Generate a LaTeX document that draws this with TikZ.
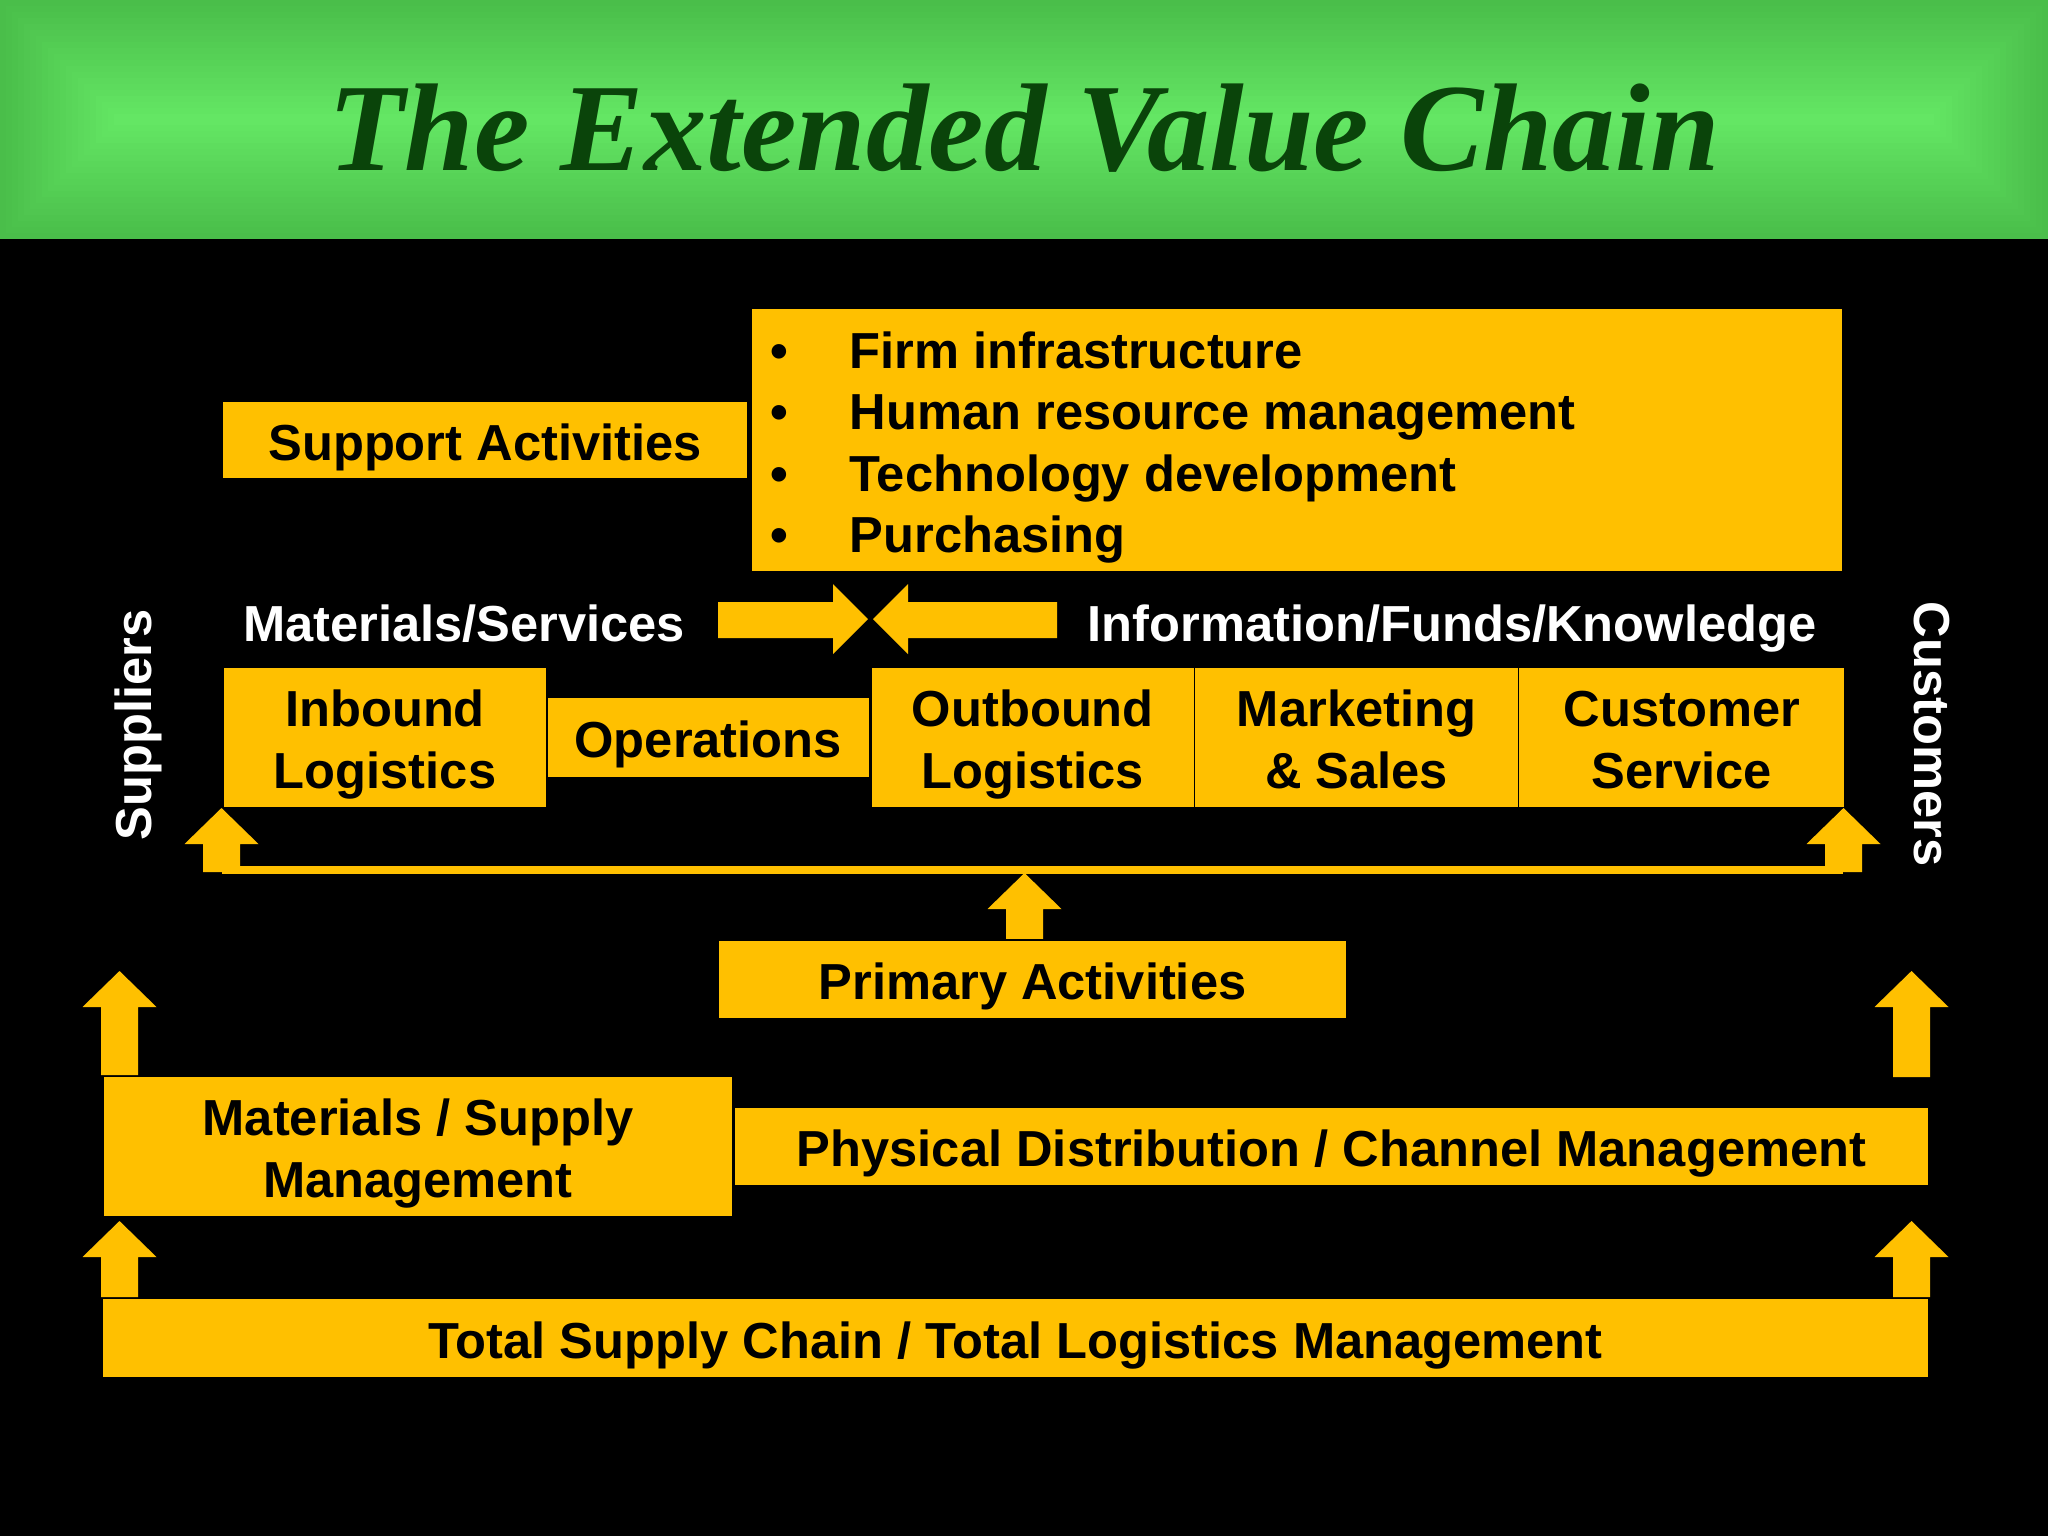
\documentclass[tikz,border=0pt]{standalone}
\usepackage{fontspec}
\setmainfont{Liberation Sans}
\newfontfamily\titlefont{Liberation Serif}
\usetikzlibrary{positioning}

\definecolor{amber}{RGB}{255,192,0}
\definecolor{edgegreen}{RGB}{74,190,74}
\definecolor{midgreen}{RGB}{100,230,100}
\definecolor{titlegreen}{RGB}{10,68,10}
\newcommand{\boxfont}{\fontsize{14.4}{17.4}\selectfont\bfseries}
\newcommand{\topstrut}{\rule{0pt}{14.6pt}}
\newcommand{\botstrut}{\rule[-3.2pt]{0pt}{0pt}}

\tikzset{
  pics/uparr/.style={code={
    \fill[amber] (-18.5,0) -- (-18.5,{-#1+36}) -- (-37,{-#1+36}) -- (0,-#1)
      -- (37,{-#1+36}) -- (18.5,{-#1+36}) -- (18.5,0) -- cycle;}}
}

\begin{document}
\begin{tikzpicture}[x=0.01cm,y=-0.01cm,
    ybox/.style={fill=amber,draw=black,line width=0.4pt,inner sep=0pt,outer sep=0pt,
      align=center,font=\boxfont},
    wlabel/.style={text=white,font=\boxfont,inner sep=0pt},
    btext/.style={font=\boxfont,inner sep=0pt},
    node distance=0pt]
  \useasboundingbox (0,0) rectangle (2048,1536);
  \fill[black] (0,0) rectangle (2048,1536);

  % title bar
  \foreach \i in {0,6,...,114} {
    \pgfmathtruncatemacro\p{100*\i/114}
    \fill[midgreen!\p!edgegreen] (\i,\i) rectangle ({2048-\i},{239-\i});
  }
  \node[font=\titlefont\fontsize{35.5}{40}\selectfont\bfseries\itshape,text=titlegreen,
    anchor=base,inner sep=0pt] (title) at (1024,170) {The Extended Value Chain};

  % support activities
  \node[ybox,minimum width=10.9cm,minimum height=2.64cm] (suplist) at (1297,440) {};
  \node[ybox,minimum width=5.25cm,minimum height=0.78cm,left=0.04cm of suplist] (support)
    {\topstrut Support Activities\botstrut};
  \foreach \txt [count=\i from 0] in {Firm infrastructure, Human resource management,
      Technology development, Purchasing} {
    \node[btext,anchor=base] at (779,{368+61.6*\i}) {•};
    \node[btext,anchor=base west] (item\i) at (849,{368+61.6*\i}) {\txt};
  }

  % flows
  \node[wlabel,anchor=base] (matserv) at (464,641) {Materials/Services};
  \node[wlabel,anchor=base] (info) at (1452,641) {Information/Funds/Knowledge};
  \fill[amber] (718,602) -- (833,602) -- (833,584) -- (868,619) -- (833,654) -- (833,638) -- (718,638) -- cycle;
  \fill[amber] (1057,602) -- (908,602) -- (908,584) -- (873,619) -- (908,654) -- (908,638) -- (1057,638) -- cycle;

  % primary activities
  \node[ybox,minimum width=3.24cm,minimum height=1.41cm] (inbound) at (385,737.5)
    {\topstrut Inbound\\Logistics\botstrut};
  \node[ybox,minimum width=3.22cm,minimum height=0.81cm,right=of inbound] (operations)
    {\topstrut Operations\botstrut};
  \node[ybox,minimum width=3.23cm,minimum height=1.41cm,right=0.02cm of operations] (outbound)
    {\topstrut Outbound\\Logistics\botstrut};
  \node[ybox,minimum width=3.24cm,minimum height=1.41cm,right=of outbound] (marketing)
    {\topstrut Marketing\\\& Sales\botstrut};
  \node[ybox,minimum width=3.26cm,minimum height=1.41cm,right=of marketing] (service)
    {\topstrut Customer\\Service\botstrut};

  \coordinate (barL) at (222,870);
  \coordinate (barR) at (1843,870);
  \draw[amber,line width=0.08cm] (barL) -- (barR);
  \pic at (221.5,872) {uparr=64};
  \pic at (1843.5,872) {uparr=64};
  \pic at (1024.5,939) {uparr=66};

  \node[ybox,minimum width=6.29cm,minimum height=0.79cm] (primary) at (1032.5,979.5)
    {\topstrut Primary Activities\botstrut};

  \node[wlabel,rotate=90] (suppliers) at (138,725) {Suppliers};
  \node[wlabel,rotate=-90] (customers) at (1932,734) {Customers};

  % extended chain
  \node[ybox,minimum width=6.30cm,minimum height=1.41cm] (matsupply) at (418,1146.5)
    {\topstrut Materials / Supply\\Management\botstrut};
  \node[ybox,minimum width=11.93cm,minimum height=0.79cm] (physdist) at (1331.5,1146.5)
    {\topstrut Physical Distribution / Channel Management\botstrut};
  \node[ybox,minimum width=18.25cm,minimum height=0.80cm] (total) at (1015.5,1338)
    {\topstrut Total Supply Chain / Total Logistics Management\botstrut};

  \pic at (119.5,1075) {uparr=104};
  \pic at (119.5,1297) {uparr=76};
  \pic at (1911.5,1077) {uparr=106};
  \pic at (1911.5,1297) {uparr=76};
\end{tikzpicture}
\end{document}
